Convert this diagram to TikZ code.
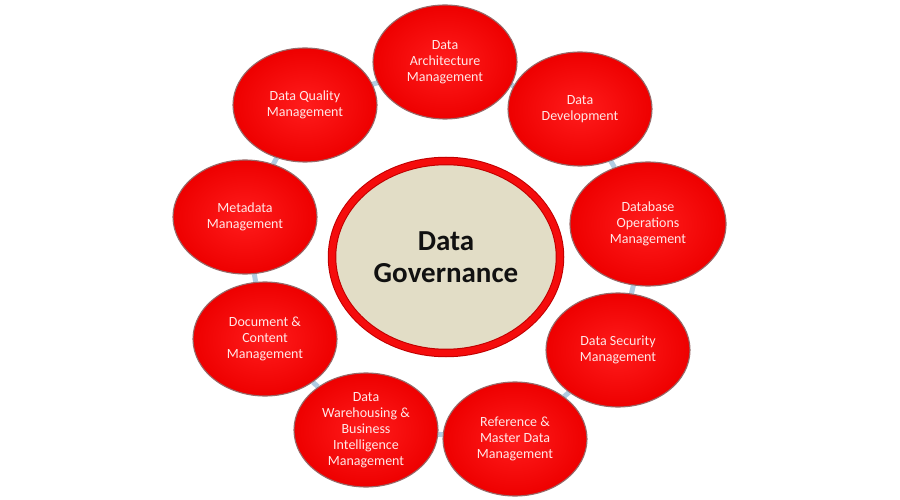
\documentclass[tikz,border=0pt]{standalone}
\usepackage{fontspec}
\setmainfont{Carlito}
\usepackage{tikz}
\usetikzlibrary{shapes.geometric,backgrounds}
\definecolor{areared}{RGB}{255,28,28}
\definecolor{arearim}{RGB}{238,0,0}
\definecolor{areaedge}{RGB}{150,105,105}
\definecolor{areatext}{RGB}{255,232,232}
\definecolor{govfill}{RGB}{226,221,198}
\definecolor{govring}{RGB}{245,12,12}
\definecolor{govedge}{RGB}{190,0,0}
\definecolor{govtext}{RGB}{17,17,17}
\definecolor{linkblue}{RGB}{176,204,226}

\begin{document}
\begin{tikzpicture}
    [   x=1pt, y=-1pt
    ,   area/.style=
        {   ellipse
        ,   draw=areaedge
        ,   line width=1.1pt
        ,   inner color=areared
        ,   outer color=arearim
        ,   minimum width=144pt
        ,   minimum height=114pt
        ,   inner sep=0pt
        ,   align=center
        ,   text=areatext
        ,   font=\fontsize{14}{16}\selectfont
        }
    ,   hub/.style=
        {   ellipse
        ,   draw=govedge
        ,   line width=1pt
        ,   double=govring
        ,   double distance=6.5pt
        ,   fill=govfill
        ,   minimum width=228pt
        ,   minimum height=192pt
        ,   align=center
        ,   text=govtext
        ,   font=\bfseries\fontsize{29}{32}\selectfont
        }
    ,   link/.style=
        {   draw=linkblue
        ,   line width=5pt
        }
    ]
    \useasboundingbox (0,0) rectangle (900,500);
    \node[hub] (gov) at (446,257) {Data\\Governance};
    \node[area] (arch) at (445,62) {Data\\Architecture\\Management};
    \node[area] (dev) at (580,109) {Data\\Development};
    \node[area, minimum width=156pt, minimum height=124pt] (ops) at (648,224)
        {Database\\Operations\\Management};
    \node[area] (sec) at (618,350) {Data Security\\Management};
    \node[area] (ref) at (515,439) {Reference \&\\Master Data\\Management};
    \node[area] (dwh) at (366,430)
        {Data\\Warehousing \&\\Business\\Intelligence\\Management};
    \node[area] (doc) at (265,339) {Document \&\\Content\\Management};
    \node[area] (meta) at (245,217) {Metadata\\Management};
    \node[area] (qual) at (305,105) {Data Quality\\Management};
    % ring of links behind the areas
    \begin{scope}[on background layer]
        \foreach\a/\b in {arch/dev,dev/ops,ops/sec,sec/ref,ref/dwh,dwh/doc,doc/meta,meta/qual,qual/arch}
        {   \draw[link] (\a) -- (\b);
        }
    \end{scope}
\end{tikzpicture}
\end{document}
